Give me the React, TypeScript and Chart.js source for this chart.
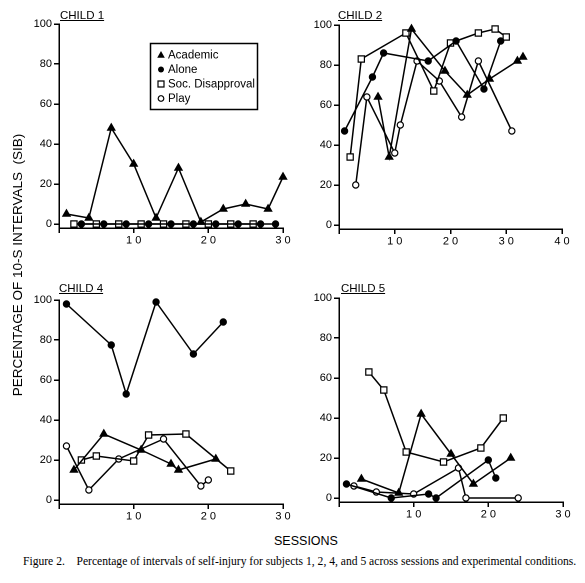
import React, { useEffect, useRef } from 'react';
import { Chart, registerables } from 'chart.js';

Chart.register(...registerables);

// ---------- data ----------
const SERIES_LABELS = ['Academic', 'Alone', 'Soc. Disapproval', 'Play'];
const Y_TICKS = [0, 20, 40, 60, 80, 100];
const X_TICKS_30 = [0, 10, 20, 30];
const X_TICKS_40 = [0, 10, 20, 30, 40];

// Child 1  [session, percentage]
const child1Academic = [[1, 5], [4, 3], [7, 48], [10, 30], [13, 3], [16, 28], [19, 1], [22, 7.5], [25, 10], [28, 7.5], [30, 23.5]];
const child1Alone = [[3, 0], [6, 0], [9, 0], [12, 0], [15, 0], [18, 0], [21, 0], [24, 0], [27, 0], [29, 0]];
const child1Soc = [[2, 0], [5, 0], [8, 0], [11, 0], [14, 0], [17, 0], [20, 0], [23, 0], [26, 0]];
const child1Play: number[][] = [];

// Child 2
const child2Academic = [[7, 64], [9, 34], [13, 98], [19, 77], [23, 65], [27, 73], [32, 82], [33, 84]];
const child2Alone = [[1, 47], [6, 74], [8, 86], [16, 82], [21, 92], [26, 68], [29, 92]];
const child2Soc = [[2, 34], [4, 83], [12, 96], [17, 67], [20, 91], [25, 96], [28, 98], [30, 94]];
const child2Play = [[3, 20], [5, 64], [10, 36], [11, 50], [14, 82], [18, 72], [22, 54], [25, 82], [31, 47]];

// Child 4
const child4Academic = [[2, 15], [6, 33], [11, 25], [15, 18], [16, 15], [21, 20.5]];
const child4Alone = [[1, 98], [7, 77.5], [9, 53], [13, 99], [18, 73], [22, 89]];
const child4Soc = [[3, 20], [5, 22], [10, 19.5], [12, 32.5], [17, 33], [23, 14.5]];
const child4Play = [[1, 27], [4, 5], [8, 20.5], [14, 30.5], [19, 7], [20, 10]];

// Child 5
const child5Academic = [[3, 9.5], [8, 2.5], [11, 42], [15, 22], [18, 7], [23, 20]];
const child5Alone = [[1, 7], [7, 0], [12, 2], [13, 0], [20, 19], [21, 10]];
const child5Soc = [[4, 63], [6, 54], [9, 23], [14, 18], [19, 25], [22, 40]];
const child5Play = [[2, 6], [5, 3], [10, 2], [16, 15], [17, 0], [24, 0]];

// ---------- styles ----------
const FONT = '"Liberation Sans", Arial, Helvetica, sans-serif';
const SERIES_STYLE = [
  { pointStyle: 'triangle', radius: 4.2, fill: '#000' },
  { pointStyle: 'circle', radius: 3.1, fill: '#000' },
  { pointStyle: 'rect', radius: 4.4, fill: '#fff' },
  { pointStyle: 'circle', radius: 3.1, fill: '#fff' },
];

type PanelCfg = {
  title: string;
  series: number[][][];
  xMax: number;
  xTicks: number[];
  left: number;
  top: number;
  width: number;
  height: number;
  yAxisWidth: number;
  padTop: number;
  padRight: number;
  xAxisHeight: number;
  titleLeft: number;
  titleTop: number;
  legend?: boolean;
};

const legendPlugin = {
  id: 'boxLegend',
  afterDraw(chart: any) {
    const ctx = chart.ctx;
    ctx.save();
    ctx.strokeStyle = '#000';
    ctx.lineWidth = 1.5;
    ctx.strokeRect(150.5, 43.5, 107, 66);
    const rows = [55, 69.5, 84, 98.5];
    ctx.font = `11.5px ${FONT}`;
    ctx.textBaseline = 'middle';
    ctx.textAlign = 'left';
    SERIES_LABELS.forEach((lab, i) => {
      const y = rows[i];
      const x = 161;
      ctx.fillStyle = '#000';
      ctx.lineWidth = 1.2;
      ctx.beginPath();
      if (i === 0) {
        ctx.moveTo(x, y - 4);
        ctx.lineTo(x + 3.8, y + 2.8);
        ctx.lineTo(x - 3.8, y + 2.8);
        ctx.closePath();
        ctx.fill();
      } else if (i === 1) {
        ctx.arc(x, y, 3, 0, Math.PI * 2);
        ctx.fill();
      } else if (i === 2) {
        ctx.fillStyle = '#fff';
        ctx.rect(x - 3, y - 3, 6, 6);
        ctx.fill();
        ctx.stroke();
      } else {
        ctx.fillStyle = '#fff';
        ctx.arc(x, y, 2.8, 0, Math.PI * 2);
        ctx.fill();
        ctx.stroke();
      }
      ctx.fillStyle = '#000';
      ctx.fillText(lab, 168, y + 0.5);
    });
    ctx.restore();
  },
};

const spaced = (v: number) => (v === 0 ? '' : String(v).split('').join(' '));

function Panel({ cfg }: { cfg: PanelCfg }) {
  const ref = useRef<HTMLCanvasElement>(null);
  useEffect(() => {
    if (!ref.current) return;
    const datasets = cfg.series.map((pts, i) => ({
      label: SERIES_LABELS[i],
      data: pts.map(([x, y]) => ({ x, y })),
      borderColor: '#000',
      borderWidth: 1.5,
      backgroundColor: SERIES_STYLE[i].fill,
      pointStyle: SERIES_STYLE[i].pointStyle,
      pointRadius: SERIES_STYLE[i].radius,
      pointBorderWidth: 1.2,
      pointBorderColor: '#000',
      pointBackgroundColor: SERIES_STYLE[i].fill,
      tension: 0,
      fill: false,
      showLine: true,
      clip: false,
    }));
    const chart = new Chart(ref.current, {
      type: 'line',
      data: { datasets },
      plugins: cfg.legend ? [legendPlugin] : [],
      options: {
        animation: false,
        responsive: false,
        devicePixelRatio: 2,
        layout: { padding: { left: 0, top: cfg.padTop, right: cfg.padRight, bottom: 0 } },
        plugins: { legend: { display: false }, tooltip: { enabled: false }, title: { display: false } },
        scales: {
          x: {
            type: 'linear',
            min: 0,
            max: cfg.xMax,
            afterBuildTicks: (s: any) => {
              s.ticks = cfg.xTicks.map((v) => ({ value: v }));
            },
            afterFit: (s: any) => {
              s.height = cfg.xAxisHeight;
              s.paddingLeft = 0;
            },
            grid: { drawOnChartArea: false, drawTicks: true, tickLength: 5, color: '#000', lineWidth: 1.5 },
            border: { display: true, color: '#000', width: 1.5 },
            ticks: {
              callback: (v: any) => spaced(Number(v)),
              color: '#000',
              font: { family: FONT, size: 11 },
              padding: 1,
              maxRotation: 0,
              autoSkip: false,
            },
          },
          y: {
            type: 'linear',
            min: -2,
            max: 100,
            afterBuildTicks: (s: any) => {
              s.ticks = Y_TICKS.map((v) => ({ value: v }));
            },
            afterFit: (s: any) => {
              s.width = cfg.yAxisWidth;
            },
            grid: { drawOnChartArea: false, drawTicks: true, tickLength: 5, color: '#000', lineWidth: 1.5 },
            border: { display: true, color: '#000', width: 1.5 },
            ticks: {
              color: '#000',
              font: { family: FONT, size: 11 },
              padding: 2,
              autoSkip: false,
            },
          },
        },
      } as any,
    });
    return () => chart.destroy();
  }, [cfg]);
  return (
    <>
      <canvas
        ref={ref}
        width={cfg.width}
        height={cfg.height}
        style={{ position: 'absolute', left: cfg.left, top: cfg.top, width: cfg.width, height: cfg.height }}
      />
      <span
        style={{
          position: 'absolute',
          left: cfg.titleLeft,
          top: cfg.titleTop,
          fontFamily: FONT,
          fontSize: 11.5,
          lineHeight: '13px',
          textDecoration: 'underline',
          color: '#000',
          whiteSpace: 'nowrap',
        }}
      >
        {cfg.title}
      </span>
    </>
  );
}

const PANELS: PanelCfg[] = [
  {
    title: 'CHILD 1',
    series: [child1Academic, child1Alone, child1Soc, child1Play],
    xMax: 30, xTicks: X_TICKS_30,
    left: 0, top: 0, width: 292, height: 252,
    yAxisWidth: 59, padTop: 24, padRight: 9, xAxisHeight: 24,
    titleLeft: 60, titleTop: 9, legend: true,
  },
  {
    title: 'CHILD 2',
    series: [child2Academic, child2Alone, child2Soc, child2Play],
    xMax: 40, xTicks: X_TICKS_40,
    left: 292, top: 0, width: 293, height: 252,
    yAxisWidth: 47, padTop: 25, padRight: 23, xAxisHeight: 23,
    titleLeft: 338, titleTop: 9,
  },
  {
    title: 'CHILD 4',
    series: [child4Academic, child4Alone, child4Soc, child4Play],
    xMax: 30, xTicks: X_TICKS_30,
    left: 0, top: 280, width: 292, height: 248,
    yAxisWidth: 59, padTop: 20, padRight: 9, xAxisHeight: 24,
    titleLeft: 59, titleTop: 282,
  },
  {
    title: 'CHILD 5',
    series: [child5Academic, child5Alone, child5Soc, child5Play],
    xMax: 30, xTicks: X_TICKS_30,
    left: 292, top: 280, width: 293, height: 248,
    yAxisWidth: 47, padTop: 18, padRight: 22, xAxisHeight: 26,
    titleLeft: 341, titleTop: 282,
  },
];

export default function App() {
  return (
    <div style={{ position: 'absolute', left: 0, top: 0, width: 585, height: 583, background: '#fff', overflow: 'hidden' }}>
      {PANELS.map((p) => (
        <Panel key={p.title} cfg={p} />
      ))}
      <div
        style={{
          position: 'absolute',
          left: 18 - 160,
          top: 265 - 8,
          width: 320,
          height: 16,
          lineHeight: '16px',
          textAlign: 'center',
          transform: 'rotate(-90deg)',
          transformOrigin: '50% 50%',
          fontFamily: FONT,
          fontSize: 13.5,
          color: '#000',
          whiteSpace: 'pre',
        }}
      >
        {'PERCENTAGE OF 10-S INTERVALS  (SIB)'}
      </div>
      <div
        style={{
          position: 'absolute',
          left: 306 - 60,
          top: 541 - 8,
          width: 120,
          lineHeight: '16px',
          textAlign: 'center',
          fontFamily: FONT,
          fontSize: 12.5,
          color: '#000',
        }}
      >
        SESSIONS
      </div>
      <div
        style={{
          position: 'absolute',
          left: 23,
          top: 555,
          lineHeight: '13px',
          fontFamily: '"Liberation Serif", "Times New Roman", serif',
          fontSize: 11.6,
          color: '#000',
          whiteSpace: 'pre',
        }}
      >
        {'Figure 2.    Percentage of intervals of self-injury for subjects 1, 2, 4, and 5 across sessions and experimental conditions.'}
      </div>
    </div>
  );
}
